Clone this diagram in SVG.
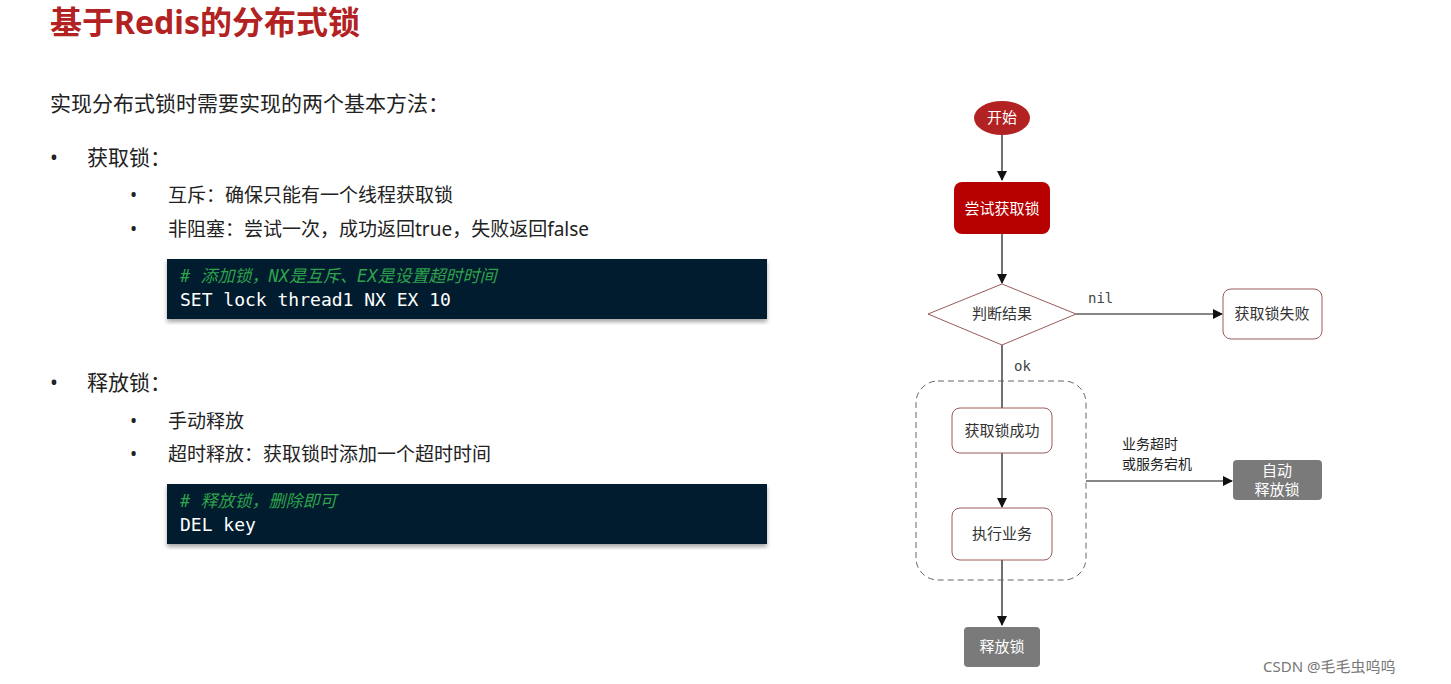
<svg xmlns="http://www.w3.org/2000/svg" width="1451" height="684" viewBox="0 0 1451 684">
<style>
.t{font-family:"Noto Sans","Noto Sans CJK SC",sans-serif;fill:#222}
.b{font-size:21px}
.m{font-family:"DejaVu Sans Mono","Noto Sans CJK SC",monospace;font-size:18px;fill:#fff}
.c{font-family:"DejaVu Sans Mono","Noto Sans CJK SC",monospace;font-size:17px;fill:#2fa24c;font-style:italic}
.n{font-family:"Noto Sans","Noto Sans CJK SC",sans-serif;font-size:15px;text-anchor:middle}
.l{stroke:#111;stroke-width:1.2;fill:none}
</style>
<defs><marker id="a" markerWidth="10" markerHeight="10" refX="9" refY="5" orient="auto" markerUnits="userSpaceOnUse"><path d="M0,0L10,5L0,10z" fill="#111"/></marker>
<filter id="s"><feDropShadow dx="0" dy="3" stdDeviation="2" flood-opacity="0.35"/></filter></defs>
<rect width="1451" height="684" fill="#fff"/>
<text x="50" y="34" class="t" style="font-size:32px;font-weight:bold;fill:#b22222">基于Redis的分布式锁</text>
<text x="50" y="111" class="t b">实现分布式锁时需要实现的两个基本方法：</text>
<text x="50" y="165" class="t b">•</text><text x="87" y="165" class="t b">获取锁：</text>
<text x="130" y="202" class="t" style="font-size:19px">•</text><text x="168" y="202" class="t" style="font-size:19px">互斥：确保只能有一个线程获取锁</text>
<text x="130" y="236" class="t" style="font-size:19px">•</text><text x="168" y="236" class="t" style="font-size:19px">非阻塞：尝试一次，成功返回true，失败返回false</text>
<rect x="167" y="259" width="600" height="60" fill="#021c2e" filter="url(#s)"/>
<text x="180" y="282" class="c"># 添加锁，NX是互斥、EX是设置超时时间</text>
<text x="180" y="306" class="m">SET lock thread1 NX EX 10</text>
<text x="50" y="390" class="t b">•</text><text x="87" y="390" class="t b">释放锁：</text>
<text x="130" y="428" class="t" style="font-size:19px">•</text><text x="168" y="428" class="t" style="font-size:19px">手动释放</text>
<text x="130" y="461" class="t" style="font-size:19px">•</text><text x="168" y="461" class="t" style="font-size:19px">超时释放：获取锁时添加一个超时时间</text>
<rect x="167" y="484" width="600" height="60" fill="#021c2e" filter="url(#s)"/>
<text x="180" y="507" class="c"># 释放锁，删除即可</text>
<text x="180" y="531" class="m">DEL key</text>
<g id="connectors">
<path class="l" d="M1002,135V180" marker-end="url(#a)"/>
<path class="l" d="M1002,234V283" marker-end="url(#a)"/>
<path class="l" d="M1076,314H1222" marker-end="url(#a)"/>
<path class="l" d="M1002,345V408"/>
<path class="l" d="M1002,453V507" marker-end="url(#a)"/>
<path class="l" d="M1002,560V625" marker-end="url(#a)"/>
<path class="l" d="M1086,481H1232" marker-end="url(#a)"/>
<text x="1088" y="303" style="font-family:'DejaVu Sans Mono',monospace;font-size:14px;fill:#444">nil</text>
<text x="1014" y="371" style="font-family:'DejaVu Sans Mono',monospace;font-size:14px;fill:#444">ok</text>
<text x="1122" y="449" class="t" style="font-size:14px">业务超时</text>
<text x="1122" y="469" class="t" style="font-size:14px">或服务宕机</text>
</g>
<g id="group"><rect x="916" y="381" width="170" height="199" rx="22" fill="none" stroke="#666" stroke-dasharray="6,4"/></g>
<g id="start"><ellipse cx="1002" cy="118" rx="28" ry="17" fill="#b22222"/><text x="1002" y="123" class="n" style="fill:#fff">开始</text></g>
<g id="try"><rect x="954" y="182" width="96" height="52" rx="8" fill="#b70000"/><text x="1002" y="214" class="n" style="fill:#fff">尝试获取锁</text></g>
<g id="judge"><path d="M1002,284L1076,314L1002,345L928,314Z" fill="#fff" stroke="#9a5a5a"/><text x="1002" y="319" class="n" style="fill:#333">判断结果</text></g>
<g id="fail"><rect x="1223" y="289" width="99" height="50" rx="8" fill="#fff" stroke="#9a5a5a"/><text x="1272" y="319" class="n" style="fill:#333">获取锁失败</text></g>
<g id="ok"><rect x="952" y="408" width="100" height="45" rx="8" fill="#fff" stroke="#9a5a5a"/><text x="1002" y="436" class="n" style="fill:#333">获取锁成功</text></g>
<g id="biz"><rect x="952" y="508" width="100" height="52" rx="8" fill="#fff" stroke="#9a5a5a"/><text x="1002" y="539" class="n" style="fill:#333">执行业务</text></g>
<g id="auto"><rect x="1233" y="460" width="89" height="40" rx="4" fill="#7a7a7a"/><text x="1277" y="476" class="n" style="fill:#fff">自动</text><text x="1277" y="495" class="n" style="fill:#fff">释放锁</text></g>
<g id="release"><rect x="964" y="627" width="76" height="40" rx="4" fill="#7a7a7a"/><text x="1002" y="652" class="n" style="fill:#fff">释放锁</text></g>
<text x="1263" y="672" style="font-family:'Noto Sans','Noto Sans CJK SC',sans-serif;font-size:15px;fill:#777">CSDN @毛毛虫呜呜</text>
</svg>
